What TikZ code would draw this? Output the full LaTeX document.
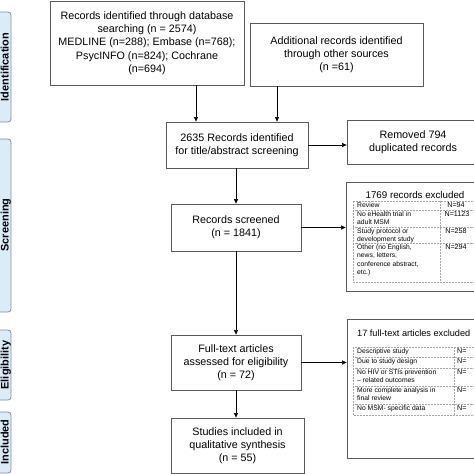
\documentclass[tikz,border=0pt]{standalone}
\usepackage{fontspec}
\setmainfont{Liberation Sans}
\usetikzlibrary{arrows.meta}
\definecolor{sidefill}{HTML}{DCEBF8}
\definecolor{sideline}{HTML}{7E8FA3}
\definecolor{boxline}{HTML}{5A5A5A}
\definecolor{cellline}{HTML}{A6A6A6}
\tikzset{
	box/.style={draw=boxline, line width=0.8bp, fill=white, align=center, inner sep=2bp, font=\fontsize{10.8}{13.3}\selectfont},
	side/.style={draw=sideline, line width=0.8bp, fill=sidefill, rounded corners=3bp},
	sidetext/.style={rotate=90, anchor=base, inner sep=0pt, font=\fontsize{11}{13}\selectfont\bfseries},
	arr/.style={-{Triangle[length=4.5bp,width=4bp]}, line width=0.6bp},
	cell/.style={anchor=north west, align=left, inner sep=1bp, font=\fontsize{6.8}{8.6}\selectfont},
	num/.style={anchor=north, inner sep=1bp, font=\fontsize{7.2}{8.6}\selectfont},
	grid/.style={draw=cellline, densely dotted, line width=0.5bp},
	head/.style={inner sep=0pt, font=\fontsize{9.8}{11}\selectfont},
}
\begin{document}
\begin{tikzpicture}[x=1bp, y=1bp]
		%%%%% START %%%%%
		\useasboundingbox (0,-474) rectangle (474,0);
		
		% phases
		\draw[side] (-20,-12) rectangle (11,-122);
		\draw[side] (-20,-139) rectangle (11,-312);
		\draw[side] (-20,-330) rectangle (11,-400);
		\draw[side] (-20,-412) rectangle (11,-473);
		\node[sidetext] (pid) at (8.5,-67) {Identification};
		\node[sidetext] (pscr) at (8.5,-225) {Screening};
		\node[sidetext] (pel) at (8.5,-365) {Eligibility};
		\node[sidetext] (pinc) at (8.5,-442) {Included};
		
		% boxes
		\node[box, minimum width=194bp, minimum height=84bp] (db) at (147,-43)
			{Records identified through database\\searching (n = 2574)\\MEDLINE (n=288); Embase (n=768);\\PsycINFO (n=824); Cochrane\\(n=694)};
		\node[box, minimum width=173bp, minimum height=63bp] (add) at (336.5,-54.5)
			{Additional records identified\\through other sources\\(n =61)};
		\node[box, minimum width=142bp, minimum height=46bp] (id) at (237,-145)
			{2635 Records identified\\for title/abstract screening};
		\node[box, minimum width=132bp, minimum height=44bp] (dup) at (413,-142)
			{Removed 794\\duplicated records};
		\node[box, minimum width=130bp, minimum height=47bp] (scr) at (236,-227.5)
			{Records screened\\(n = 1841)};
		\node[box, minimum width=138bp, minimum height=109bp] (exc) at (415,-236.5) {};
		\node[box, minimum width=130bp, minimum height=55bp] (full) at (236,-362.5)
			{Full-text articles\\assessed for eligibility\\(n = 72)};
		\node[box, minimum width=146bp, minimum height=139bp] (fexc) at (420,-388.5) {};
		\node[box, minimum width=133bp, minimum height=55bp] (incl) at (237.5,-445.5)
			{Studies included in\\qualitative synthesis\\(n = 55)};
		
		% 1769 excluded
		\node[head] (exchead) at (415,-195) {1769 records excluded};
		\draw[grid] (353,-201) rectangle (480,-282);
		\draw[grid] (353,-210) -- (480,-210);
		\draw[grid] (353,-227) -- (480,-227);
		\draw[grid] (353,-243) -- (480,-243);
		\draw[grid] (440,-201) -- (440,-282);
		\node[cell] (ea) at (356,-201) {Review};
		\node[cell] (eb) at (356,-210) {No eHealth trial in\\adult MSM};
		\node[cell] (ec) at (356,-227) {Study protocol or\\development study};
		\node[cell] (ed) at (356,-243) {Other (no English,\\news, letters,\\conference abstract,\\etc.)};
		\node[num] (na) at (456,-201) {N=94};
		\node[num] (nb) at (457,-210) {N=1123};
		\node[num] (nc) at (456,-227) {N=258};
		\node[num] (nd) at (456,-243) {N=294};
		
		% 17 full-text excluded
		\node[head, anchor=west, font=\fontsize{9.2}{11}\selectfont] (fhead) at (357,-333) {17 full-text articles excluded};
		\draw[grid] (353,-347) rectangle (480,-415);
		\draw[grid] (353,-357.5) -- (480,-357.5);
		\draw[grid] (353,-368) -- (480,-368);
		\draw[grid] (353,-386) -- (480,-386);
		\draw[grid] (353,-404) -- (480,-404);
		\draw[grid] (454,-347) -- (454,-415);
		\node[cell] (fa) at (356,-347) {Descriptive study};
		\node[cell] (fb) at (356,-357.5) {Due to study design};
		\node[cell] (fc) at (356,-368) {No HIV or STIs prevention\\– related outcomes};
		\node[cell] (fd) at (356,-386) {More complete analysis in\\final review};
		\node[cell] (fe) at (356,-404) {No MSM- specific data};
		\foreach \y/\n in {347/ma,357.5/mb,368/mc,386/md,404/me}
			\node[num, anchor=north west] (\n) at (456,-\y) {N=};
		
		% arrows
		\coordinate (dbout) at ([xshift=49bp]db.south);
		\coordinate (addout) at ([xshift=-59.5bp]add.south);
		\draw[arr] (dbout) -- (dbout |- id.north);
		\draw[arr] (addout) -- (addout |- id.north);
		\draw[arr] (id.east) -- (id.east -| dup.west);
		\draw[arr] (id.south -| scr.north) -- (scr.north);
		\draw[arr] (scr.east) -- (scr.east -| exc.west);
		\draw[arr] (scr.south) -- (full.north);
		\draw[arr] (full.east) -- (full.east -| fexc.west);
		\draw[arr] (full.south) -- (full.south |- incl.north);
		
		%%%%% END %%%%%
\end{tikzpicture}
\end{document}
